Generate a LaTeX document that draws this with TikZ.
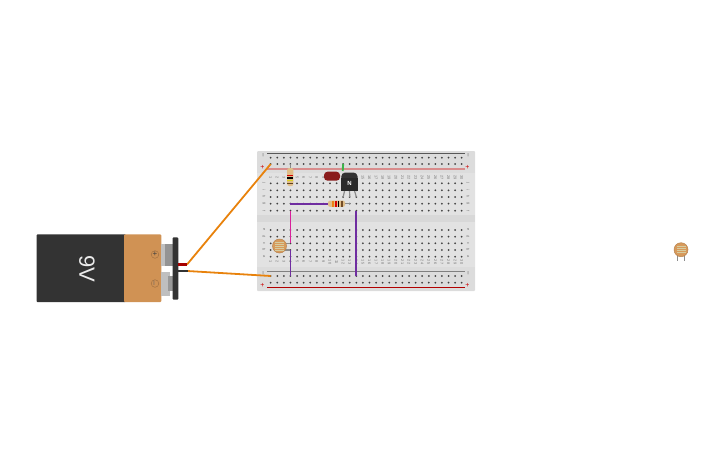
\documentclass[tikz,border=0pt]{standalone}
\usepackage{fontspec}
\setsansfont{Liberation Sans}
\usetikzlibrary{calc}
\definecolor{boardgrey}{HTML}{DCDCDC}
\definecolor{boardlight}{HTML}{E2E2E2}
\definecolor{boardband}{HTML}{D8D8D8}
\definecolor{holegrey}{HTML}{404040}
\definecolor{batdark}{HTML}{333333}
\definecolor{copper}{HTML}{D09254}
\definecolor{wireorange}{HTML}{E8820C}
\definecolor{wirepurple}{HTML}{6F2DA0}
\definecolor{wirepink}{HTML}{D8209A}
\definecolor{wiregreen}{HTML}{3CB44A}
\definecolor{ledred}{HTML}{8A1C1C}
\definecolor{legtan}{HTML}{E0BE88}
\definecolor{ldrbody}{HTML}{D79A5C}
\definecolor{ldrface}{HTML}{D6CDA0}
\definecolor{railpink}{HTML}{D98C8C}
\tikzset{
  hole/.style={circle, fill=holegrey, inner sep=0pt, minimum size=2pt},
  tinylabel/.style={font=\sffamily\fontsize{3.8}{3.8}\selectfont, text=black!55, inner sep=0pt},
  wire/.style={line width=1.9pt},
  lead/.style={line width=1.2pt, draw=black!45},
  band/.style={line width=1.6pt},
}
\begin{document}
\begin{tikzpicture}[x=1pt, y=-1pt]
      \useasboundingbox (0,0) rectangle (725,453);

      % breadboard
      \fill[boardgrey, rounded corners=1pt] (257,151) rectangle (475,291);
      \fill[boardlight] (257,173) rectangle (475,267);
      \fill[boardband] (257,215) rectangle (475,222);
      \draw[black!65, line width=1pt] (267,153) -- (465,153);
      \draw[railpink, line width=1.2pt] (267,169) -- (465,169);
      \draw[black!50, line width=1pt] (267,271.7) -- (465,271.7);
      \draw[red!70!black, line width=1pt] (267,287) -- (465,287);

      \foreach \col in {0,...,29} {
        \pgfmathsetmacro{\cx}{270.7+6.586*\col}
        \pgfmathtruncatemacro{\num}{\col+1}
        \foreach \rowy/\rowname in {157.7/ra,164/rb,183.3/j,190.3/i,197/h,203.7/g,210.7/f,230/e,236.7/d,243.3/c,250/b,256.7/a,276/rc,282.7/rd}
          \node[hole] (\rowname-\num) at (\cx,\rowy) {};
        \node[tinylabel, rotate=-90] (numtop-\num) at (\cx,177.7) {\num};
        \node[tinylabel, rotate=-90] (numbot-\num) at (\cx,262) {\num};
      }
      \foreach \rowy/\rowname in {183.3/j,190.3/i,197/h,203.7/g,210.7/f,230/e,236.7/d,243.3/c,250/b,256.7/a} {
        \node[tinylabel, rotate=-90] (left-\rowname) at (264,\rowy) {\rowname};
        \node[tinylabel, rotate=-90] (right-\rowname) at (468,\rowy) {\rowname};
      }
      \foreach \px/\side in {262.5/l,467.5/r} {
        \node[font=\sffamily\fontsize{6}{6}\selectfont, text=black!70, inner sep=0pt, rotate=-90] (minustop\side) at (\px,155.5) {--};
        \node[font=\sffamily\fontsize{7}{7}\selectfont, text=red!80!black, inner sep=0pt] (plustop\side) at (\px,167) {+};
        \node[font=\sffamily\fontsize{6}{6}\selectfont, text=black!70, inner sep=0pt, rotate=-90] (minusbot\side) at (\px,273.5) {--};
        \node[font=\sffamily\fontsize{7}{7}\selectfont, text=red!80!black, inner sep=0pt] (plusbot\side) at (\px,285) {+};
      }

      % battery
      \fill[batdark, rounded corners=1pt] (36.5,234.3) rectangle (126,302);
      \fill[copper, rounded corners=1pt] (124,234.3) rectangle (161.3,302);
      \node[font=\sffamily\fontsize{22}{22}\selectfont, text=black!8, rotate=-90, inner sep=0pt] (vlabel) at (87,268.5) {9V};
      \draw[copper!75!black, line width=0.4pt] (155,254.5) circle (3.8);
      \draw[copper!75!black, line width=0.4pt] (155,283.5) circle (3.8);
      \node[font=\sffamily\fontsize{8}{8}\selectfont, text=black!75, inner sep=0pt] (plusterm) at (155,254.5) {+};
      \node[font=\sffamily\fontsize{8}{8}\selectfont, text=black!60, inner sep=0pt, rotate=90] (minusterm) at (155,283.5) {--};
      \fill[black!25] (161.3,244) rectangle (165,265.5);
      \fill[black!42] (165,244) rectangle (173,265.5);
      \fill[black!25] (161.3,272) rectangle (170,295.5);
      \fill[black!40] (168,276) rectangle (172.7,291);
      \fill[batdark, rounded corners=1pt] (172.5,237.3) rectangle (178.3,299.7);

      % clip wires
      \coordinate (redtip) at (187,264.5);
      \coordinate (blacktip) at (187.5,271);
      \draw[wireorange, line width=1.8pt] (redtip) -- (rb-1.center);
      \draw[wireorange, line width=1.8pt] (blacktip) -- (rc-1.center);
      \coordinate (clipa) at (178,264.5);
      \coordinate (clipb) at (178,271);
      \draw[red!65!black, line width=2.6pt] (clipa) -- (redtip);
      \draw[batdark, line width=2.6pt] (clipb) -- (blacktip);

      % jumpers
      \draw[wirepink, wire] (f-4.center) -- (c-4.center);
      \draw[wirepurple, wire] (b-4.center) -- (rc-4.center);
      \draw[wirepurple, wire] (f-14.center) -- (rc-14.center);
      \draw[wirepurple, wire] (g-4.center) -- (g-10.center);
      \coordinate (greentop) at (342.7,171);
      \draw[wiregreen, wire] (rb-12.center) -- (greentop);

      % resistors
      \draw[lead] (rb-4.center) -- (j-4.center);
      \fill[legtan, rounded corners=2pt] (287.2,168) rectangle (293.4,186);
      \draw[band, red!85!black] (287.2,175.6) -- (293.4,175.6);
      \draw[band, black] (287.2,178) -- (293.4,178);
      \draw[band, yellow!85!black] (287.2,180.4) -- (293.4,180.4);
      \draw[band, black!50!brown] (287.2,183.6) -- (293.4,183.6);

      \draw[lead] (g-10.center) -- (g-13.center);
      \fill[legtan, rounded corners=2pt] (328,200.6) rectangle (345,206.8);
      \draw[band, orange!70!brown] (333,200.6) -- (333,206.8);
      \draw[band, red!85!black] (336,200.6) -- (336,206.8);
      \draw[band, black] (338.6,200.6) -- (338.6,206.8);
      \draw[band, black!40!brown] (342,200.6) -- (342,206.8);

      % led
      \fill[ledred, rounded corners=3.5pt] (324,171.7) rectangle (340,180.7);

      % transistor
      \draw[lead] (345,189) -- (h-12.center);
      \draw[lead] (349.5,189) -- (h-13.center);
      \draw[lead] (354,189) -- (h-14.center);
      \fill[batdark, rounded corners=4pt] (341.3,172.5) rectangle (357.5,190.5);
      \fill[batdark!80!black] (341.3,178) rectangle (357.5,190.5);
      \node[font=\sffamily\bfseries\fontsize{6}{6}\selectfont, text=white, inner sep=0pt] (tlabel) at (349.5,183) {N};

      % ldr on the board
      \draw[lead] (279,243.3) -- (c-4.center);
      \draw[lead] (279,250) -- (b-4.center);
      \node[circle, draw=ldrbody!85!black, fill=ldrbody, line width=0.5pt, inner sep=0pt, minimum size=14pt] (ldrboard) at (279.5,246) {};
      \fill[ldrface] (275,241.5) rectangle (284,250.5);
      \foreach \dy in {243,245,247,249}
        \draw[ldrbody, line width=0.6pt] (275,\dy) -- (284,\dy);

      % spare ldr
      \coordinate (legl) at (677.5,261);
      \coordinate (legr) at (684.5,261);
      \draw[lead] (677.5,252) -- (legl);
      \draw[lead] (684.5,252) -- (legr);
      \node[circle, draw=ldrbody!85!black, fill=ldrbody, line width=0.5pt, inner sep=0pt, minimum size=14pt] (ldrspare) at (681,249.7) {};
      \fill[ldrface] (677,245.5) rectangle (685.5,254);
      \foreach \dy in {247,249,251,253}
        \draw[ldrbody, line width=0.6pt] (677,\dy) -- (685.5,\dy);
    \end{tikzpicture}
\end{document}
